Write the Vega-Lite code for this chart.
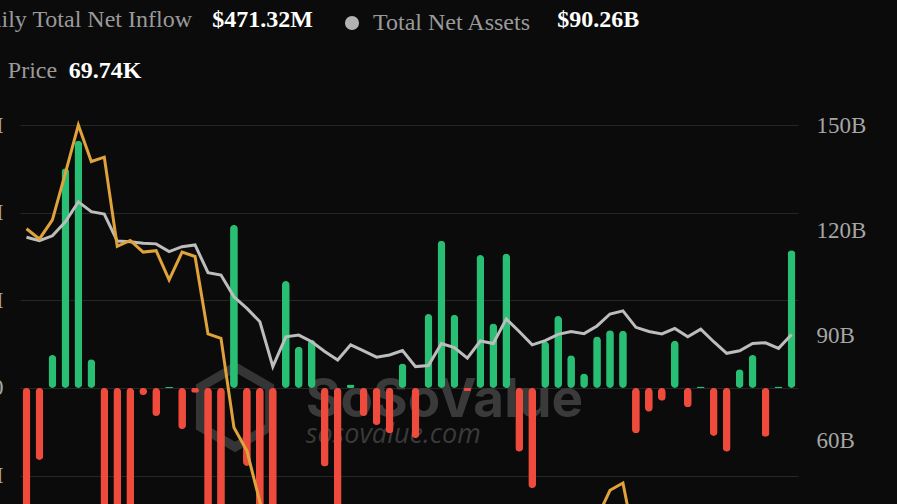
{
  "$schema": "https://vega.github.io/schema/vega-lite/v6.json",
  "width": 778,
  "height": 379,
  "autosize": {"type": "none"},
  "padding": {"left": 20, "top": 125, "right": 99, "bottom": 0},
  "background": "#0b0b0b",
  "config": {"view": {"stroke": null}, "font": "Liberation Serif"},
  "data": {"values": [
    {"date": "2025-10-01", "inflow": -470, "assets": 118.0, "price": 119.1},
    {"date": "2025-10-02", "inflow": -246, "assets": 117.0, "price": 118.4},
    {"date": "2025-10-03", "inflow": 113, "assets": 118.4, "price": 119.7},
    {"date": "2025-10-06", "inflow": 752, "assets": 122.4, "price": 122.9},
    {"date": "2025-10-07", "inflow": 846, "assets": 128.1, "price": 126.2},
    {"date": "2025-10-08", "inflow": 98, "assets": 125.3, "price": 123.7},
    {"date": "2025-10-09", "inflow": -480, "assets": 124.6, "price": 124.0},
    {"date": "2025-10-10", "inflow": -540, "assets": 116.9, "price": 117.9},
    {"date": "2025-10-13", "inflow": -420, "assets": 116.7, "price": 118.3},
    {"date": "2025-10-14", "inflow": -24, "assets": 116.3, "price": 117.5},
    {"date": "2025-10-15", "inflow": -96, "assets": 116.1, "price": 117.6},
    {"date": "2025-10-16", "inflow": 4, "assets": 113.9, "price": 115.6},
    {"date": "2025-10-17", "inflow": -141, "assets": 115.3, "price": 117.5},
    {"date": "2025-10-20", "inflow": -16, "assets": 115.8, "price": 117.2},
    {"date": "2025-10-21", "inflow": -560, "assets": 107.9, "price": 111.9},
    {"date": "2025-10-22", "inflow": -600, "assets": 107.2, "price": 111.6},
    {"date": "2025-10-23", "inflow": 558, "assets": 101.0, "price": 105.5},
    {"date": "2025-10-24", "inflow": -267, "assets": 97.7, "price": 103.9},
    {"date": "2025-10-27", "inflow": -520, "assets": 93.9, "price": 100.4},
    {"date": "2025-10-28", "inflow": -870, "assets": 81.1, "price": 97.4},
    {"date": "2025-10-29", "inflow": 366, "assets": 89.6, "price": 96.0},
    {"date": "2025-10-30", "inflow": 141, "assets": 90.1, "price": 95.0},
    {"date": "2025-10-31", "inflow": 164, "assets": 88.2, "price": 94.5},
    {"date": "2025-11-03", "inflow": -269, "assets": 85.4, "price": 93.0},
    {"date": "2025-11-04", "inflow": -480, "assets": 83.0, "price": 91.0},
    {"date": "2025-11-05", "inflow": 12, "assets": 87.3, "price": 92.0},
    {"date": "2025-11-06", "inflow": -96, "assets": 85.6, "price": 91.0},
    {"date": "2025-11-07", "inflow": -127, "assets": 83.8, "price": 90.0},
    {"date": "2025-11-10", "inflow": -155, "assets": 84.4, "price": 92.0},
    {"date": "2025-11-11", "inflow": 84, "assets": 85.7, "price": 91.0},
    {"date": "2025-11-12", "inflow": -172, "assets": 81.1, "price": 90.0},
    {"date": "2025-11-13", "inflow": 253, "assets": 81.4, "price": 88.0},
    {"date": "2025-11-14", "inflow": 504, "assets": 87.7, "price": 85.0},
    {"date": "2025-11-17", "inflow": 251, "assets": 86.5, "price": 84.0},
    {"date": "2025-11-18", "inflow": -10, "assets": 83.5, "price": 83.0},
    {"date": "2025-11-19", "inflow": 455, "assets": 88.4, "price": 81.0},
    {"date": "2025-11-20", "inflow": 221, "assets": 87.7, "price": 80.0},
    {"date": "2025-11-21", "inflow": 459, "assets": 94.7, "price": 78.0},
    {"date": "2025-11-24", "inflow": -218, "assets": 91.1, "price": 80.0},
    {"date": "2025-11-25", "inflow": -343, "assets": 87.3, "price": 83.0},
    {"date": "2025-11-26", "inflow": 159, "assets": 88.5, "price": 85.0},
    {"date": "2025-11-28", "inflow": 246, "assets": 90.3, "price": 87.0},
    {"date": "2025-12-01", "inflow": 112, "assets": 91.1, "price": 90.0},
    {"date": "2025-12-02", "inflow": 50, "assets": 90.5, "price": 93.0},
    {"date": "2025-12-03", "inflow": 176, "assets": 92.7, "price": 99.3},
    {"date": "2025-12-04", "inflow": 198, "assets": 96.1, "price": 101.2},
    {"date": "2025-12-05", "inflow": 196, "assets": 97.0, "price": 101.7},
    {"date": "2025-12-08", "inflow": -155, "assets": 92.3, "price": 97.2},
    {"date": "2025-12-09", "inflow": -81, "assets": 91.1, "price": 94.0},
    {"date": "2025-12-10", "inflow": -44, "assets": 90.4, "price": 92.0},
    {"date": "2025-12-11", "inflow": 162, "assets": 92.0, "price": 91.0},
    {"date": "2025-12-12", "inflow": -66, "assets": 89.6, "price": 89.0},
    {"date": "2025-12-15", "inflow": 5, "assets": 91.8, "price": 88.0},
    {"date": "2025-12-16", "inflow": -164, "assets": 88.2, "price": 86.0},
    {"date": "2025-12-17", "inflow": -218, "assets": 84.9, "price": 84.0},
    {"date": "2025-12-18", "inflow": 64, "assets": 85.6, "price": 82.0},
    {"date": "2025-12-19", "inflow": 113, "assets": 87.7, "price": 80.0},
    {"date": "2025-12-22", "inflow": -167, "assets": 87.9, "price": 76.0},
    {"date": "2025-12-23", "inflow": 5, "assets": 86.3, "price": 73.0},
    {"date": "2025-12-24", "inflow": 471.32, "assets": 90.26, "price": 69.74}
  ]},
  "layer": [
    {
      "layer": [
        {
          "data": {"values": [{"label": "logo"}]},
          "mark": {"type": "point", "shape": "M0,-1L0.866,-0.5L0.866,0.5L0,1L-0.866,0.5L-0.866,-0.5Z", "filled": false, "stroke": "#353535", "strokeWidth": 9, "opacity": 1},
          "encoding": {
            "x": {"datum": "2025-10-23", "type": "ordinal"},
            "y": {"datum": -65, "type": "quantitative"},
            "size": {"value": 6400},
            "xOffset": {"value": 5}
          }
        },
        {
          "data": {"values": [{"label": "SoSoValue"}]},
          "mark": {"type": "text", "align": "left", "baseline": "alphabetic", "font": "Inter", "fontWeight": "bold", "fontSize": 53, "color": "#3a3a3a", "dx": -6},
          "encoding": {
            "x": {"datum": "2025-10-31", "type": "ordinal"},
            "y": {"datum": -98, "type": "quantitative"},
            "text": {"field": "label"}
          }
        },
        {
          "data": {"values": [{"label": "sosovalue.com"}]},
          "mark": {"type": "text", "align": "left", "baseline": "alphabetic", "font": "Open Sans", "fontStyle": "italic", "fontSize": 27, "color": "#3a3a3a", "dx": -6},
          "encoding": {
            "x": {"datum": "2025-10-31", "type": "ordinal"},
            "y": {"datum": -188, "type": "quantitative"},
            "text": {"field": "label"}
          }
        },
        {
          "mark": {"type": "bar", "cornerRadius": 4},
          "encoding": {
            "x": {
              "field": "date", "type": "ordinal",
              "scale": {"paddingInner": 0.4, "paddingOuter": 0.2},
              "axis": {
                "orient": "bottom", "labels": false, "ticks": false, "domain": false, "grid": false,
                "title": "Daily Total Net Inflow", "titleX": -47, "titleY": -477.3, "titleAngle": 0,
                "titleAlign": "left", "titleBaseline": "alphabetic", "titleFont": "Liberation Serif",
                "titleFontSize": 24, "titleFontWeight": "normal", "titleColor": "#9a9a9a"
              }
            },
            "y": {
              "field": "inflow", "type": "quantitative",
              "scale": {"domain": [-397, 900], "nice": false, "zero": false},
              "axis": {
                "orient": "left", "values": [-300, 0, 300, 600, 900],
                "labelExpr": "datum.value == 0 ? '0' : datum.value + 'M'",
                "grid": true, "gridColor": "#262626", "gridWidth": 1.2, "domain": false, "ticks": false,
                "labelPadding": 17, "labelFont": "Liberation Serif", "labelFontSize": 23, "labelColor": "#a6a6a6",
                "title": "$471.32M", "titleX": 191.7, "titleY": -98.3, "titleAngle": 0,
                "titleAlign": "left", "titleBaseline": "alphabetic", "titleFont": "Liberation Serif",
                "titleFontSize": 24, "titleFontWeight": "bold", "titleColor": "#ffffff"
              }
            },
            "color": {"condition": {"test": "datum.inflow >= 0", "value": "#28be73"}, "value": "#ef4b3c"}
          }
        }
      ]
    },
    {
      "mark": {"type": "line", "strokeWidth": 3},
      "encoding": {
        "x": {
          "field": "date", "type": "ordinal",
          "axis": {
            "orient": "top", "labels": false, "ticks": false, "domain": false, "grid": false,
            "title": "Price", "titleX": -12.7, "titleY": -48, "titleAngle": 0,
            "titleAlign": "left", "titleBaseline": "alphabetic", "titleFont": "Liberation Serif",
            "titleFontSize": 24, "titleFontWeight": "normal", "titleColor": "#9a9a9a"
          }
        },
        "y": {
          "field": "assets", "type": "quantitative",
          "scale": {"domain": [41.92, 150], "nice": false, "zero": false},
          "axis": {
            "orient": "right", "values": [60, 90, 120, 150],
            "labelExpr": "datum.value + 'B'",
            "grid": false, "domain": false, "ticks": false,
            "labelPadding": 18, "labelFont": "Liberation Serif", "labelFontSize": 23, "labelColor": "#a6a6a6",
            "title": "$90.26B", "titleX": -241.3, "titleY": -98.3, "titleAngle": 0,
            "titleAlign": "left", "titleBaseline": "alphabetic", "titleFont": "Liberation Serif",
            "titleFontSize": 24, "titleFontWeight": "bold", "titleColor": "#ffffff"
          }
        },
        "color": {
          "datum": "Total Net Assets",
          "scale": {"domain": ["Total Net Assets"], "range": ["#bdbdbd"]},
          "legend": {
            "orient": "none", "legendX": 320, "legendY": -114, "title": null,
            "symbolType": "circle", "symbolSize": 200, "symbolFillColor": "#b3b3b3", "symbolStrokeWidth": 0,
            "labelFont": "Liberation Serif", "labelFontSize": 24, "labelColor": "#9a9a9a",
            "labelLimit": 500, "labelOffset": 9
          }
        }
      }
    },
    {
      "mark": {"type": "line", "strokeWidth": 3, "color": "#e0a23a"},
      "encoding": {
        "x": {"field": "date", "type": "ordinal", "axis": null},
        "y": {
          "field": "price", "type": "quantitative",
          "scale": {"domain": [100.26, 126.2], "nice": false, "zero": false},
          "axis": {
            "orient": "right", "labels": false, "ticks": false, "domain": false, "grid": false,
            "title": "69.74K", "titleX": -729.7, "titleY": -48, "titleAngle": 0,
            "titleAlign": "left", "titleBaseline": "alphabetic", "titleFont": "Liberation Serif",
            "titleFontSize": 24, "titleFontWeight": "bold", "titleColor": "#ffffff"
          }
        }
      }
    }
  ],
  "resolve": {"scale": {"y": "independent"}, "axis": {"x": "independent", "y": "independent"}}
}
